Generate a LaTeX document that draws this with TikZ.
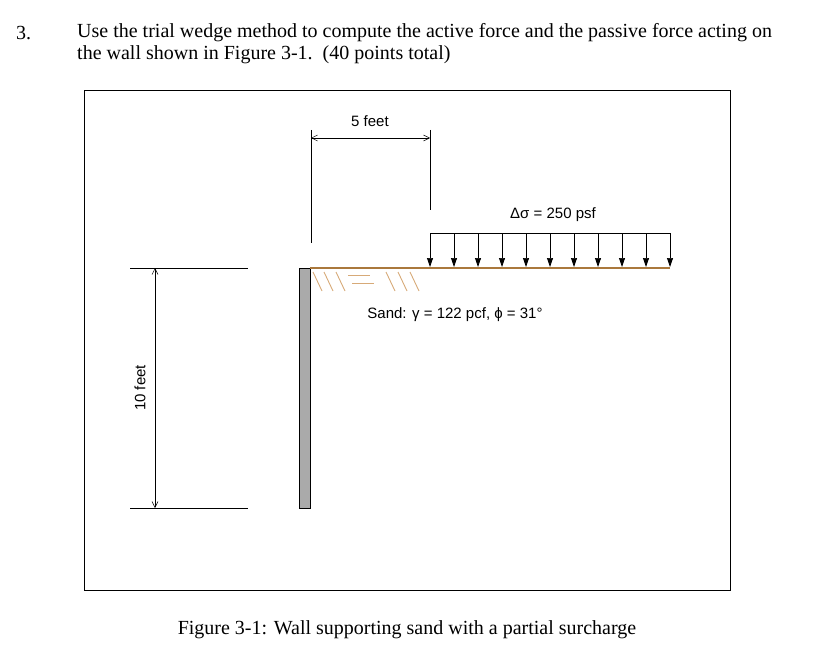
\documentclass[tikz,border=0pt]{standalone}
\usepackage{fontspec}
\setmainfont{Liberation Serif}
\newfontfamily\figfont{Liberation Sans}
\usetikzlibrary{arrows.meta}
\begin{document}
\begin{tikzpicture}[x=1pt,y=-1pt,
  lbl/.style={font=\figfont\fontsize{15}{17}\selectfont,inner sep=0},
  big/.style={font=\fontsize{20}{23}\selectfont,inner sep=0},
  dim/.style={{Straight Barb[length=6pt,width=6pt]}-{Straight Barb[length=6pt,width=6pt]},line width=0.5pt},
  ext/.style={line width=0.6pt},
  hatch/.style={draw={rgb,255:red,215;green,170;blue,120},line width=0.9pt},
  load/.style={-{Triangle[length=9pt,width=6pt]},line width=0.7pt}]
\useasboundingbox (0,0) rectangle (837,671);
\node[big,anchor=west] (num) at (16,33) {3.};
\node[big,anchor=west] (l1) at (77,33) {Use the trial wedge method to compute the active force and the passive force acting on};
\node[big,anchor=west] (l2) at (77,55) {the wall shown in Figure 3-1.\ \ (40 points total)};
\draw[line width=0.7pt] (84,90) rectangle (730,590);
% wall
\node[draw=black,line width=0.4pt,fill={rgb,255:red,170;green,170;blue,170},minimum width=11pt,minimum height=240pt,inner sep=0] (wall) at (304.5,388) {};
% ground
\draw[draw={rgb,255:red,170;green,120;blue,60},line width=1.3pt] (310,268) -- (670,268);
\foreach \x in {313,324,336,386,398,410}{\draw[hatch] (\x,272) -- (\x+9,291);}
\draw[hatch] (348,275) -- (370,275);
\draw[hatch] (352,283) -- (374,283);
% surcharge
\draw[line width=0.7pt] (430,233) -- (670,233);
\foreach \x in {430,454,...,670}{\draw[load] (\x,233) -- (\x,267);}
\node[lbl] (ds) at (553,215) {Δσ = 250 psf};
% 5 feet
\coordinate (a1) at (311,138); \coordinate (a2) at (430,138);
\draw[ext] (311,130) -- (311,243);
\draw[ext] (430,130) -- (430,210);
\draw[dim] (a1) -- (a2);
\node[lbl] (five) at (370,121) {5 feet};
% 10 feet
\draw[ext] (130,268) -- (248,268);
\draw[ext] (130,508) -- (248,508);
\coordinate (b1) at (155,268); \coordinate (b2) at (155,508);
\draw[dim] (b1) -- (b2);
\node[lbl,rotate=90] (ten) at (140,388) {10 feet};
\node[lbl] (sand) at (455,315) {Sand: γ = 122 pcf, ϕ = 31°};
\node[big] (cap) at (407,630) {Figure 3-1: Wall supporting sand with a partial surcharge};
\end{tikzpicture}
\end{document}
